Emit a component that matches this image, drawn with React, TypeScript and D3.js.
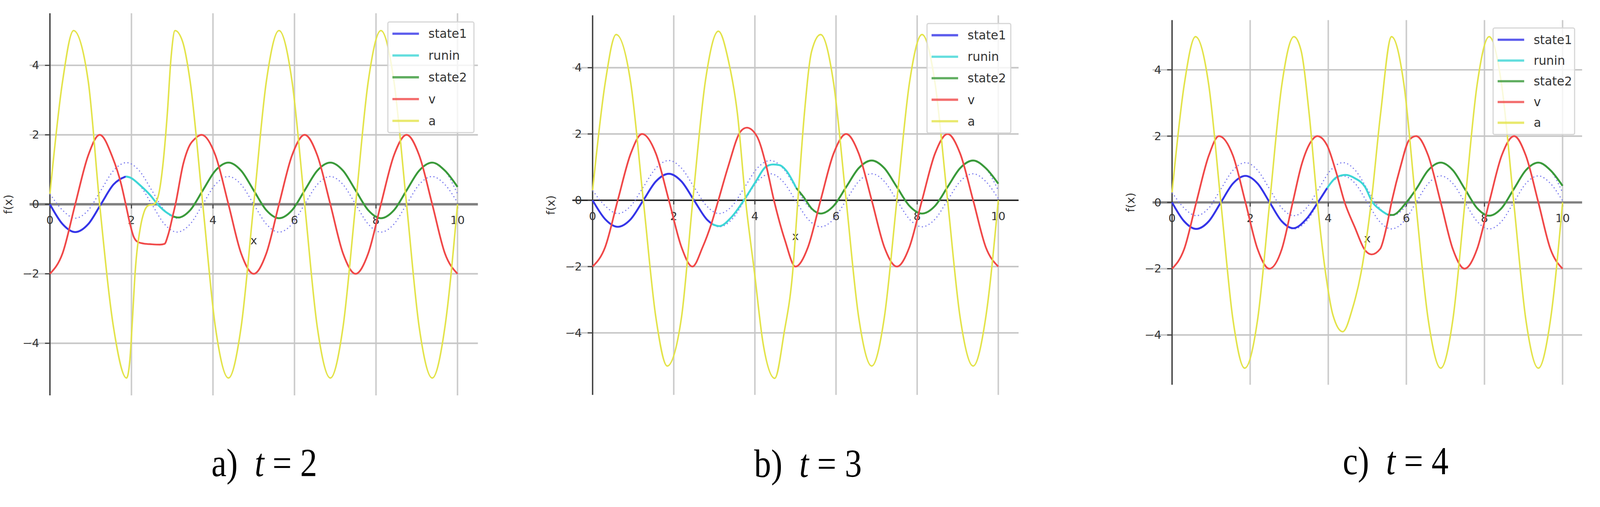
import * as d3 from "d3";

type Pt = [number, number];

// dotted guide curves, the same in all three panels
const guideUpper: Pt[] = [
  [0, 0.3], [0.31, -0.17], [0.62, -0.4], [0.94, -0.17], [1.25, 0.4], [1.56, 0.97], [1.88, 1.2], [2.19, 0.97],
  [2.5, 0.4], [2.81, -0.17], [3.12, -0.4], [3.44, -0.17], [3.75, 0.4], [4.06, 0.97], [4.38, 1.2], [4.69, 0.97],
  [5, 0.4], [5.31, -0.17], [5.62, -0.4], [5.94, -0.17], [6.25, 0.4], [6.56, 0.97], [6.88, 1.2], [7.19, 0.97],
  [7.5, 0.4], [7.81, -0.17], [8.12, -0.4], [8.44, -0.17], [8.75, 0.4], [9.06, 0.97], [9.38, 1.2], [9.69, 0.97], [10, 0.3],
];
const guideLower: Pt[] = [
  [0, 0], [0.31, -0.57], [0.62, -0.8], [0.94, -0.57], [1.25, 0], [1.56, 0.57], [1.88, 0.8], [2.19, 0.57],
  [2.5, 0], [2.81, -0.57], [3.12, -0.8], [3.44, -0.57], [3.75, 0], [4.06, 0.57], [4.38, 0.8], [4.69, 0.57],
  [5, 0], [5.31, -0.57], [5.62, -0.8], [5.94, -0.57], [6.25, 0], [6.56, 0.57], [6.88, 0.8], [7.19, 0.57],
  [7.5, 0], [7.81, -0.57], [8.12, -0.8], [8.44, -0.57], [8.75, 0], [9.06, 0.57], [9.38, 0.8], [9.69, 0.57], [10, 0.05],
];

// a) t = 2
const state1A: Pt[] = [[0, 0], [0.31, -0.57], [0.62, -0.8], [0.94, -0.57], [1.25, 0], [1.56, 0.57], [1.86, 0.8]];
const runinA: Pt[] = [[1.86, 0.8], [1.97, 0.77], [2.22, 0.54], [2.47, 0.25], [2.62, 0.03], [2.81, -0.19], [3.02, -0.35]];
const state2A: Pt[] = [
  [3.02, -0.35], [3.15, -0.38], [3.44, -0.17], [3.75, 0.4], [4.06, 0.97], [4.38, 1.2], [4.69, 0.97], [5, 0.4],
  [5.31, -0.17], [5.62, -0.4], [5.94, -0.17], [6.25, 0.4], [6.56, 0.97], [6.88, 1.2], [7.19, 0.97], [7.5, 0.4],
  [7.81, -0.17], [8.12, -0.4], [8.44, -0.17], [8.75, 0.4], [9.06, 0.97], [9.38, 1.2], [9.69, 0.97], [10, 0.5],
];
const vA: Pt[] = [
  [0, -2], [0.31, -1.41], [0.62, 0], [0.94, 1.41], [1.22, 2], [1.53, 1.37], [1.75, 0.57], [1.86, 0],
  [1.97, -0.59], [2.05, -0.92], [2.15, -1.08], [2.3, -1.13], [2.5, -1.15], [2.7, -1.16], [2.81, -1.14],
  [2.9, -0.88], [3.02, -0.3], [3.08, 0], [3.27, 1.16], [3.4, 1.63], [3.56, 1.89], [3.72, 2], [4.06, 1.41],
  [4.38, 0], [4.69, -1.41], [5, -2], [5.31, -1.41], [5.62, 0], [5.94, 1.41], [6.25, 2], [6.56, 1.41],
  [6.88, 0], [7.19, -1.41], [7.5, -2], [7.81, -1.41], [8.12, 0], [8.44, 1.41], [8.75, 2], [9.06, 1.41],
  [9.38, 0], [9.69, -1.41], [10, -2],
];
const aA: Pt[] = [
  [0, 0.3], [0.31, 3.54], [0.58, 5], [0.94, 3.54], [1.22, 0], [1.56, -3.54], [1.88, -5], [1.96, -4.5],
  [2.02, -3.4], [2.09, -1.97], [2.22, -0.66], [2.31, -0.22], [2.42, -0.03], [2.55, 0], [2.66, 0.25],
  [2.78, 1.23], [2.88, 2.61], [2.97, 4.2], [3.07, 5], [3.25, 4.7], [3.44, 3.54], [3.75, 0], [4.06, -3.54],
  [4.38, -5], [4.69, -3.54], [5, 0], [5.31, 3.54], [5.62, 5], [5.94, 3.54], [6.25, 0], [6.56, -3.54],
  [6.88, -5], [7.19, -3.54], [7.5, 0], [7.81, 3.54], [8.12, 5], [8.44, 3.54], [8.75, 0], [9.06, -3.54],
  [9.38, -5], [9.69, -3.54], [10, 0],
];

// b) t = 3
const state1B: Pt[] = [
  [0, 0], [0.31, -0.57], [0.62, -0.8], [0.94, -0.57], [1.25, 0], [1.56, 0.57], [1.88, 0.8], [2.19, 0.57],
  [2.5, 0], [2.81, -0.57], [2.95, -0.72],
];
const runinB: Pt[] = [
  [2.95, -0.72], [3.12, -0.78], [3.43, -0.5], [3.74, 0.02], [4.02, 0.56], [4.27, 1.01], [4.45, 1.08],
  [4.61, 1.06], [4.77, 0.9], [5.02, 0.37],
];
const state2B: Pt[] = [
  [5.02, 0.37], [5.2, 0.1], [5.4, -0.25], [5.62, -0.4], [5.94, -0.17], [6.25, 0.4], [6.56, 0.97], [6.88, 1.2],
  [7.19, 0.97], [7.5, 0.4], [7.81, -0.17], [8.12, -0.4], [8.44, -0.17], [8.75, 0.4], [9.06, 0.97], [9.38, 1.2],
  [9.69, 0.97], [10, 0.5],
];
const vB: Pt[] = [
  [0, -2], [0.31, -1.41], [0.62, 0], [0.94, 1.41], [1.22, 2], [1.56, 1.41], [1.88, 0], [2.19, -1.41],
  [2.46, -2], [2.71, -1.42], [2.93, -0.7], [3.1, 0], [3.34, 1.01], [3.65, 2.08], [3.8, 2.19], [4.05, 1.93],
  [4.27, 1.09], [4.47, 0], [4.74, -1.2], [5, -2], [5.31, -1.41], [5.62, 0], [5.94, 1.41], [6.25, 2],
  [6.56, 1.41], [6.88, 0], [7.19, -1.41], [7.5, -2], [7.81, -1.41], [8.12, 0], [8.44, 1.41], [8.75, 2],
  [9.06, 1.41], [9.38, 0], [9.69, -1.41], [10, -2],
];
const aB: Pt[] = [
  [0, 0.3], [0.31, 3.54], [0.58, 5], [0.94, 3.54], [1.25, 0], [1.56, -3.54], [1.84, -5], [2.19, -3.54],
  [2.47, 0], [2.78, 3.6], [3.1, 5.1], [3.35, 4.2], [3.57, 2.61], [3.77, 0], [3.99, -2.18], [4.2, -4.3],
  [4.49, -5.37], [4.72, -4.0], [4.93, -2.19], [5.06, 0], [5.22, 2.61], [5.4, 4.5], [5.62, 5], [5.94, 3.54],
  [6.25, 0], [6.56, -3.54], [6.88, -5], [7.19, -3.54], [7.5, 0], [7.81, 3.54], [8.12, 5], [8.44, 3.54],
  [8.75, 0], [9.06, -3.54], [9.38, -5], [9.69, -3.54], [10, 0],
];

// c) t = 4
const state1C: Pt[] = [
  [0, 0], [0.31, -0.57], [0.62, -0.8], [0.94, -0.57], [1.25, 0], [1.56, 0.57], [1.88, 0.8], [2.19, 0.57],
  [2.5, 0], [2.81, -0.57], [3.1, -0.78], [3.44, -0.5], [3.74, 0.01], [3.97, 0.43],
];
const runinC: Pt[] = [
  [3.97, 0.43], [4.23, 0.77], [4.45, 0.83], [4.68, 0.73], [4.94, 0.47], [5.13, 0.01], [5.33, -0.22], [5.52, -0.37],
];
const state2C: Pt[] = [
  [5.52, -0.37], [5.64, -0.38], [5.98, -0.03], [6.25, 0.4], [6.56, 0.97], [6.88, 1.2], [7.19, 0.97], [7.5, 0.4],
  [7.81, -0.17], [8.12, -0.4], [8.44, -0.17], [8.75, 0.4], [9.06, 0.97], [9.38, 1.2], [9.69, 0.97], [10, 0.5],
];
const vC: Pt[] = [
  [0, -2], [0.31, -1.41], [0.62, 0], [0.94, 1.41], [1.2, 2], [1.56, 1.41], [1.88, 0], [2.19, -1.41],
  [2.49, -2], [2.81, -1.41], [3.09, 0], [3.32, 1.15], [3.54, 1.8], [3.72, 2], [3.97, 1.72], [4.19, 0.96],
  [4.42, 0], [4.68, -0.75], [4.94, -1.44], [5.11, -1.57], [5.33, -1.4], [5.49, -0.75], [5.62, 0], [5.85, 1.08],
  [6.07, 1.88], [6.25, 2], [6.56, 1.41], [6.88, 0], [7.19, -1.41], [7.49, -2], [7.81, -1.41], [8.12, 0],
  [8.44, 1.41], [8.76, 2], [9.06, 1.41], [9.38, 0], [9.69, -1.41], [10, -2],
];
const aC: Pt[] = [
  [0, 0.3], [0.31, 3.54], [0.6, 5], [0.94, 3.54], [1.25, 0], [1.56, -3.54], [1.86, -5], [2.19, -3.54],
  [2.5, 0], [2.81, 3.54], [3.12, 5], [3.3, 4.6], [3.51, 2.68], [3.72, 0], [3.93, -2.12], [4.12, -3.4],
  [4.37, -3.9], [4.62, -3.2], [4.84, -2.12], [5.1, 0], [5.34, 2.68], [5.62, 5], [5.94, 3.54], [6.24, 0],
  [6.56, -3.54], [6.88, -5], [7.19, -3.54], [7.5, 0], [7.81, 3.54], [8.12, 5], [8.44, 3.54], [8.75, 0],
  [9.06, -3.54], [9.38, -5], [9.69, -3.54], [10, 0],
];

const xTicks = [0, 2, 4, 6, 8, 10];
const xTickLabels = ["0", "2", "4", "6", "8", "10"];
const yTicks = [-4, -2, 0, 2, 4];
const yTickLabels = ["−4", "−2", "0", "2", "4"];
const legendLabels = ["state1", "runin", "state2", "v", "a"];
const captionLetters = ["a)", "b)", "c)"];
const captionTimes = ["2", "3", "4"];
const xLimits: [number, number] = [-0.5, 10.5];
const yLimits: [number, number][] = [[-5.5, 5.5], [-5.87, 5.58], [-5.5, 5.5]];

const COLORS = {
  state1: "#3535e8",
  runin: "#3dd6d6",
  state2: "#3a9a3a",
  v: "#f04848",
  a: "#e3e34a",
  guide: "#7a7aee",
};
const legendColors = [COLORS.state1, COLORS.runin, COLORS.state2, COLORS.v, COLORS.a];

// pixel layout of the three axes
const LAYOUT = [
  { left: 77.95, right: 1260.45, top: 34.95, bottom: 1043.65, zeroColor: "#808080", zeroWidth: 6.5,
    legend: { x: 1023, y: 58, w: 227, h: 292 }, caption: { x: 697, y: 1257 } },
  { left: 1509.5, right: 2686.5, top: 40.45, bottom: 1042.3, zeroColor: "#222", zeroWidth: 4,
    legend: { x: 2445, y: 62, w: 221, h: 289 }, caption: { x: 2131, y: 1259 } },
  { left: 3039.8, right: 4172.8, top: 53.05, bottom: 1015.55, zeroColor: "#808080", zeroWidth: 6,
    legend: { x: 3938, y: 74, w: 215, h: 281 }, caption: { x: 3681, y: 1252 } },
];

const SERIES = [
  { state1: state1A, runin: runinA, state2: state2A, v: vA, a: aA },
  { state1: state1B, runin: runinB, state2: state2B, v: vB, a: aB },
  { state1: state1C, runin: runinC, state2: state2C, v: vC, a: aC },
];

const TICK_FONT = "'DejaVu Sans', sans-serif";

function Panel({ idx }: { idx: number }) {
  const L = LAYOUT[idx];
  const s = SERIES[idx];
  const x = d3.scaleLinear().domain(xLimits).range([L.left, L.right]);
  const y = d3.scaleLinear().domain(yLimits[idx]).range([L.bottom, L.top]);
  const line = d3
    .line<Pt>()
    .x((d) => x(d[0]))
    .y((d) => y(d[1]))
    .curve(d3.curveMonotoneX);
  const x0 = x(0);
  const y0 = y(0);
  const lg = L.legend;
  const rowGap = (lg.h - 62) / 4;

  return (
    <g>
      {/* grid */}
      {xTicks.slice(1).map((t) => (
        <line key={`gx${t}`} x1={x(t)} x2={x(t)} y1={L.top} y2={L.bottom} stroke="#cccccc" strokeWidth={4} />
      ))}
      {yTicks.filter((t) => t !== 0).map((t) => (
        <line key={`gy${t}`} x1={L.left} x2={L.right} y1={y(t)} y2={y(t)} stroke="#c6c6c6" strokeWidth={4} />
      ))}

      {/* spines through zero */}
      <line x1={L.left} x2={L.right} y1={y0} y2={y0} stroke={L.zeroColor} strokeWidth={L.zeroWidth} />
      <line x1={x0} x2={x0} y1={L.top} y2={L.bottom} stroke="#3a3a3a" strokeWidth={3.5} />

      {/* ticks */}
      {yTicks.map((t, i) => (
        <g key={`yt${t}`}>
          <line x1={x0 - 13} x2={x0} y1={y(t)} y2={y(t)} stroke="#444" strokeWidth={3} />
          <text x={x0 - 28} y={y(t)} textAnchor="end" dominantBaseline="central" fontFamily={TICK_FONT}
            fontSize={30} fill="#333">
            {yTickLabels[i]}
          </text>
        </g>
      ))}
      {xTicks.map((t, i) => (
        <g key={`xt${t}`}>
          <line x1={x(t)} x2={x(t)} y1={y0} y2={y0 + 11} stroke="#444" strokeWidth={3} />
          <text x={x(t)} y={y0 + 42} textAnchor="middle" dominantBaseline="central" fontFamily={TICK_FONT}
            fontSize={30} fill="#333">
            {xTickLabels[i]}
          </text>
        </g>
      ))}
      <text x={x(5)} y={y0 + 95} textAnchor="middle" dominantBaseline="central" fontFamily={TICK_FONT}
        fontSize={30} fill="#333">
        x
      </text>
      <text transform={`translate(${x0 - 110},${(L.top + L.bottom) / 2}) rotate(-90)`} textAnchor="middle"
        dominantBaseline="central" fontFamily={TICK_FONT} fontSize={30} fill="#333">
        f(x)
      </text>

      {/* curves */}
      <path d={line(guideUpper) ?? ""} fill="none" stroke={COLORS.guide} strokeWidth={3} strokeDasharray="3 6.5" />
      <path d={line(guideLower) ?? ""} fill="none" stroke={COLORS.guide} strokeWidth={3} strokeDasharray="3 6.5" />
      <path d={line(s.state1) ?? ""} fill="none" stroke={COLORS.state1} strokeWidth={5} />
      <path d={line(s.runin) ?? ""} fill="none" stroke={COLORS.runin} strokeWidth={5} />
      <path d={line(s.state2) ?? ""} fill="none" stroke={COLORS.state2} strokeWidth={5} />
      <path d={line(s.v) ?? ""} fill="none" stroke={COLORS.v} strokeWidth={4.5} />
      <path d={line(s.a) ?? ""} fill="none" stroke={COLORS.a} strokeWidth={4} />

      {/* legend */}
      <rect x={lg.x} y={lg.y} width={lg.w} height={lg.h} rx={4} fill="#fff" fillOpacity={0.8} stroke="#d6d6d6"
        strokeWidth={3} />
      {legendLabels.map((lab, i) => {
        const ry = lg.y + 31 + i * rowGap;
        return (
          <g key={lab}>
            <line x1={lg.x + 12} x2={lg.x + 82} y1={ry} y2={ry} stroke={legendColors[i]} strokeWidth={6}
              strokeOpacity={0.8} />
            <text x={lg.x + 107} y={ry} dominantBaseline="central" fontFamily={TICK_FONT} fontSize={32} fill="#333">
              {lab}
            </text>
          </g>
        );
      })}

      {/* caption */}
      <text transform={`translate(${L.caption.x},${L.caption.y}) scale(0.86,1)`} textAnchor="middle"
        fontFamily="'Liberation Serif', 'Times New Roman', serif" fontSize={104} fill="#000">
        {captionLetters[idx]}
        {"\u00a0\u00a0"}
        <tspan fontStyle="italic">t</tspan>
        {"\u00a0=\u00a0"}
        {captionTimes[idx]}
      </text>
    </g>
  );
}

export default function App() {
  return (
    <svg
      width="100%"
      height="100%"
      viewBox="0 0 4220 1299"
      preserveAspectRatio="xMinYMin meet"
      style={{ position: "absolute", left: 0, top: 0, background: "#fff", display: "block" }}
    >
      <rect width={4220} height={1299} fill="#fff" />
      {LAYOUT.map((_, i) => (
        <Panel key={i} idx={i} />
      ))}
    </svg>
  );
}
